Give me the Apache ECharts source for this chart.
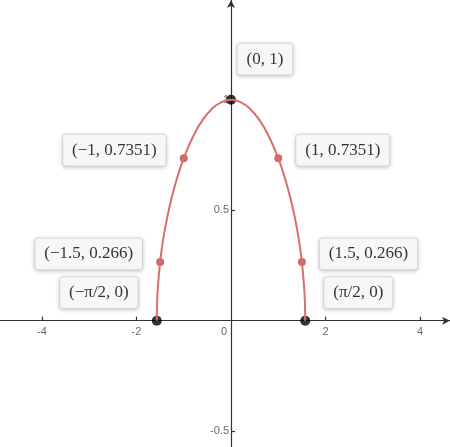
<!DOCTYPE html>
<html>
<head>
<meta charset="UTF-8">
<script src="https://cdn.jsdelivr.net/npm/echarts@6/dist/echarts.min.js"></script>
<style>
  html, body { margin: 0; padding: 0; background: #fff; }
  #chart { width: 450px; height: 447px; }
</style>
</head>
<body>
<div id="chart"></div>
<script type="text/javascript">
    // curve y = sqrt(cos x)
    let curveX = [-1.5708, -1.565, -1.55, -1.5, -1.45, -1.4, -1.3, -1.2, -1.1, -1.0, -0.8, -0.6, -0.4, -0.2, 0,
        0.2, 0.4, 0.6, 0.8, 1.0, 1.1, 1.2, 1.3, 1.4, 1.45, 1.5, 1.55, 1.565, 1.5708];
    let curveY = [0, 0.076, 0.144, 0.266, 0.347, 0.412, 0.517, 0.602, 0.674, 0.7351, 0.835, 0.909, 0.960, 0.990, 1,
        0.990, 0.960, 0.909, 0.835, 0.7351, 0.674, 0.602, 0.517, 0.412, 0.347, 0.266, 0.144, 0.076, 0];

    let redX = [-1.5, -1, 1, 1.5];
    let redY = [0.266, 0.7351, 0.7351, 0.266];
    let redLabels = ['(−1.5, 0.266)', '(−1, 0.7351)', '(1, 0.7351)', '(1.5, 0.266)'];

    let blackX = [-1.5708, 0, 1.5708];
    let blackY = [0, 1, 0];
    let blackLabels = ['(−π/2, 0)', '(0, 1)', '(π/2, 0)'];

    let xTicks = [-4, -2, 0, 2, 4];
    let yTicks = [-0.5, 0.5, 1];

    let chart = echarts.init(document.getElementById('chart'));

    let boxLabel = function (text, side) {
        return {
            show: true,
            formatter: text,
            position: side === 'left' ? 'left' : (side === 'top' ? 'top' : 'right'),
            distance: 14,
            offset: side === 'top' ? [34, -6] : [0, -8],
            fontFamily: 'Liberation Serif',
            fontSize: 17,
            color: '#000',
            backgroundColor: '#fff',
            borderColor: '#ddd',
            borderWidth: 1,
            borderRadius: 3,
            padding: [7, 9],
            shadowColor: 'rgba(0,0,0,0.2)',
            shadowBlur: 4,
            shadowOffsetY: 1
        };
    };

    let redData = redX.map(function (x, i) {
        return {value: [x, redY[i]], label: boxLabel(redLabels[i], x < 0 ? 'left' : 'right')};
    });
    let blackData = blackX.map(function (x, i) {
        let side = x < 0 ? 'left' : (x > 0 ? 'right' : 'top');
        let lab = boxLabel(blackLabels[i], side);
        if (side !== 'top') lab.offset = [0, -28];
        return {value: [x, blackY[i]], label: lab};
    });

    // tick labels drawn as invisible points so they sit on the zero axes
    let tickText = {color: '#444', fontSize: 11, fontFamily: 'Arial'};
    let xTickData = xTicks.map(function (v) {
        return {value: [v, 0], label: Object.assign({show: true, formatter: String(v), position: 'bottom', distance: 6,
                offset: v === 0 ? [-7, 0] : [0, 0]}, tickText)};
    });
    let yTickData = yTicks.map(function (v) {
        return {value: [0, v], label: Object.assign({show: true, formatter: String(v), position: 'left', distance: 2}, tickText)};
    });

    let axisStyle = {color: '#333', width: 1.2};
    let option = {
        backgroundColor: '#fff',
        animation: false,
        grid: {left: 0, right: 0, top: 0, bottom: 0, containLabel: false, outerBoundsMode: 'none'},
        xAxis: {
            type: 'value', min: -4.889, max: 4.635,
            splitLine: {show: false},
            axisLine: {onZero: true, lineStyle: axisStyle, symbol: ['none', 'arrow'], symbolSize: [6, 8]},
            axisTick: {show: true, customValues: [-4, -2, 2, 4], length: 4, inside: true, lineStyle: axisStyle},
            axisLabel: {show: false}
        },
        yAxis: {
            type: 'value', min: -0.572, max: 1.452,
            splitLine: {show: false},
            axisLine: {onZero: true, lineStyle: axisStyle, symbol: ['none', 'arrow'], symbolSize: [6, 8]},
            axisTick: {show: true, customValues: yTicks, length: 4, inside: true, lineStyle: axisStyle},
            axisLabel: {show: false}
        },
        series: [
            {
                type: 'line', showSymbol: false, smooth: true,
                data: curveX.map(function (x, i) { return [x, curveY[i]]; }),
                lineStyle: {color: '#d6706d', width: 2}
            },
            {
                type: 'scatter', symbolSize: 8, itemStyle: {color: '#c74440'},
                data: redData
            },
            {
                type: 'scatter', symbolSize: 10, itemStyle: {color: '#000'},
                data: blackData
            },
            {
                type: 'scatter', symbolSize: 0, silent: true,
                data: xTickData.concat(yTickData)
            }
        ]
    };
    chart.setOption(option);
</script>
</body>
</html>
